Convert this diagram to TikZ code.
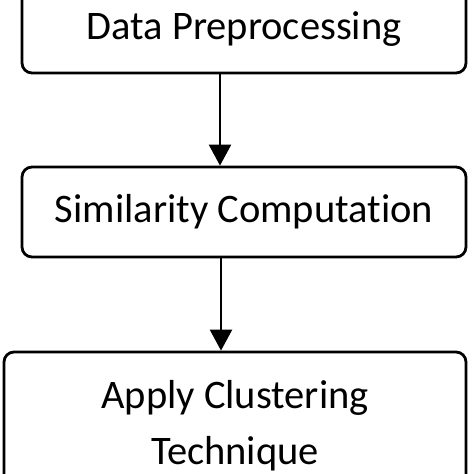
\documentclass[tikz,border=0pt]{standalone}
\usepackage{fontspec}
\setmainfont{Carlito}[RawFeature=-liga]
\usetikzlibrary{arrows.meta}
\begin{document}
\begin{tikzpicture}[x=1pt,y=1pt,
  flowbox/.style={draw=black, line width=2.8pt, rounded corners=10pt, fill=white,
    inner sep=0pt, align=center, font=\fontsize{40.5}{56}\selectfont},
  flowarrow/.style={draw=black, line width=2.5pt, -{Triangle[width=22pt,length=21pt]}}]
\clip (0,0) rectangle (474,474);
\fill[white] (0,0) rectangle (474,474);
% y_tikz = 474 - y_px
\node[flowbox, minimum width=444pt, minimum height=88pt] (prep) at (244,474-29) {Data Preprocessing};
\node[flowbox, minimum width=444pt, minimum height=90pt] (sim) at (244,474-212) {Similarity Computation};
\node[flowbox, minimum width=462pt, minimum height=148pt] (clust) at (235,474-426) {Apply Clustering\\Technique};
\draw[flowarrow] ([xshift=-24pt]prep.south) -- ([xshift=-24pt]sim.north);
\draw[flowarrow] ([xshift=-23pt]sim.south) -- ([xshift=-14pt]clust.north);
\end{tikzpicture}
\end{document}
